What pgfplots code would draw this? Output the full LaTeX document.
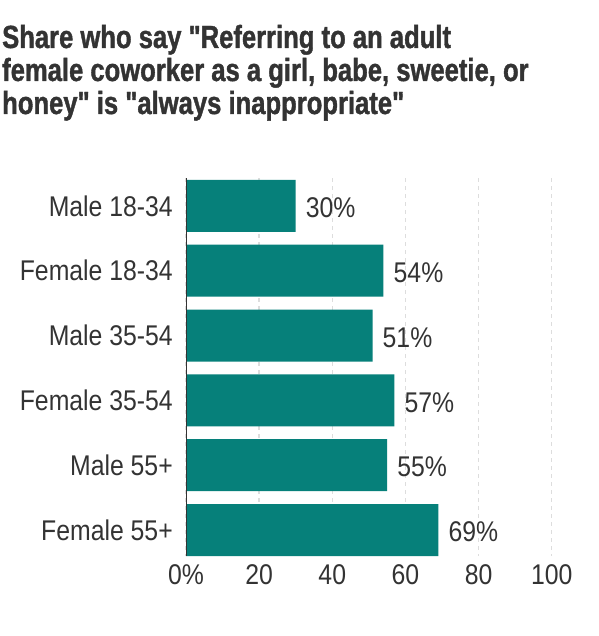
\documentclass[border=0pt]{standalone}
\usepackage{fontspec}
\setmainfont[FakeStretch=0.87]{Liberation Sans}
\newfontfamily\titlefont[FakeStretch=0.8,FakeBold=1.2]{Liberation Sans Bold}
\usepackage{pgfplots}
\pgfplotsset{compat=1.18}

\definecolor{barteal}{HTML}{06807A}
\definecolor{txt}{HTML}{333333}
\definecolor{gridgray}{HTML}{DDDDDD}

\begin{document}
\begin{tikzpicture}
  \path[use as bounding box] (0,0) rectangle (598pt,-636pt);
  % title
  \begin{scope}[every node/.style={anchor=base west, inner sep=0pt, text=txt,
      font=\titlefont\fontsize{32}{34}\selectfont}]
    \node at (2pt,-48pt) {Share who say "Referring to an adult};
    \node at (2pt,-81pt) {female coworker as a girl, babe, sweetie, or};
    \node at (2pt,-114pt) {honey" is "always inappropriate"};
  \end{scope}

  \begin{axis}[
      at={(186pt,-556pt)}, anchor=south west,
      scale only axis,
      width=365.7pt, height=378pt,
      xbar, bar width=52pt,
      xmin=0, xmax=100,
      ymin=-0.43, ymax=5.4,
      y dir=reverse,
      xtick={0,20,40,60,80,100},
      xticklabels={0\%,20,40,60,80,100},
      ytick={0,1,2,3,4,5},
      yticklabels={Male 18-34,Female 18-34,Male 35-54,Female 35-54,Male 55+,Female 55+},
      major tick length=0pt,
      axis line style={draw=none},
      xmajorgrids,
      grid style={draw=gridgray, line width=1.5pt, dash pattern=on 4pt off 4pt},
      ticklabel style={text=txt, font=\fontsize{28.5}{30}\selectfont, inner sep=0pt},
      xticklabel style={anchor=north, yshift=-8pt},
      yticklabel style={anchor=east, xshift=-13pt},
      /pgf/number format/assume math mode=true,
      nodes near coords={\pgfmathprintnumber{\pgfplotspointmeta}\%},
      nodes near coords style={anchor=west, xshift=10pt, yshift=-2pt, inner sep=0pt, text=txt,
        font=\fontsize{28.5}{30}\selectfont},
      point meta=x,
    ]
    \addplot[fill=barteal, draw=none] coordinates {
      (30,0) (54,1) (51,2) (57,3) (55,4) (69,5)
    };
    \draw[txt, line width=2pt] (axis cs:0,-0.43) -- (axis cs:0,5.4);
  \end{axis}
\end{tikzpicture}
\end{document}
